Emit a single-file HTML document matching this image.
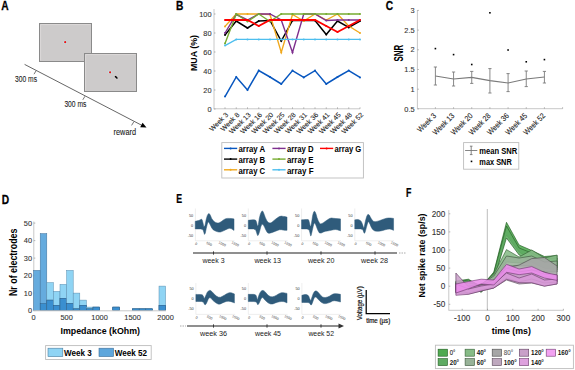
<!DOCTYPE html>
<html><head><meta charset="utf-8"><style>
html,body{margin:0;padding:0;background:#fff;width:575px;height:370px;overflow:hidden}
svg{display:block;font-family:"Liberation Sans", sans-serif}
</style></head><body>
<svg width="575" height="370" viewBox="0 0 575 370">
<rect width="575" height="370" fill="#fff"/>
<text transform="translate(1.3,10.0) scale(0.86,1)" font-size="11.9" font-weight="bold" fill="#000" stroke="#000" stroke-width="0.25">A</text>
<text transform="translate(176.0,9.6) scale(0.86,1)" font-size="11.9" font-weight="bold" fill="#000" stroke="#000" stroke-width="0.25">B</text>
<text transform="translate(385.8,9.6) scale(0.86,1)" font-size="11.9" font-weight="bold" fill="#000" stroke="#000" stroke-width="0.25">C</text>
<text transform="translate(1.7,203.7) scale(0.86,1)" font-size="11.9" font-weight="bold" fill="#000" stroke="#000" stroke-width="0.25">D</text>
<text transform="translate(176.2,202.6) scale(0.74,1)" font-size="11.9" font-weight="bold" fill="#000" stroke="#000" stroke-width="0.25">E</text>
<text transform="translate(405.9,197.0) scale(0.74,1)" font-size="11.9" font-weight="bold" fill="#000" stroke="#000" stroke-width="0.25">F</text>
<rect x="39.5" y="23.5" width="52" height="38" fill="#cdcbcb" stroke="#8a8a8a" stroke-width="1"/>
<path d="M40.6,60.5 V24.6 H90.5" stroke="#dedcdc" stroke-width="0.8" fill="none"/>
<rect x="84.5" y="53.5" width="52" height="38" fill="#cdcbcb" stroke="#8a8a8a" stroke-width="1"/>
<path d="M85.6,90.5 V54.6 H135.5" stroke="#dedcdc" stroke-width="0.8" fill="none"/>
<circle cx="65.2" cy="42.2" r="1.8" fill="#bfe6ee"/><circle cx="65.2" cy="42.2" r="1.1" fill="#f01010"/>
<circle cx="110.1" cy="72.3" r="1.8" fill="#bfe6ee"/><circle cx="110.1" cy="72.3" r="1.1" fill="#f01010"/>
<path d="M115.2,76.3 L117.4,78.5" stroke="#000" stroke-width="1.3"/><path d="M114.8,75.9 l1.8,0.2 l-1.6,1.6z" fill="#000"/>
<line x1="24.6" y1="64.4" x2="143.5" y2="126.2" stroke="#555" stroke-width="0.9"/>
<path d="M146.5,127.6 L140.2,127.2 L142.6,122.8 Z" fill="#000"/>
<line x1="36.2" y1="70.6" x2="34.0" y2="74.19999999999999" stroke="#555" stroke-width="0.8"/>
<line x1="85" y1="96.2" x2="82.8" y2="99.8" stroke="#555" stroke-width="0.8"/>
<line x1="133.8" y1="121.8" x2="131.60000000000002" y2="125.39999999999999" stroke="#555" stroke-width="0.8"/>
<text x="15" y="82" font-size="9.2" stroke="#222" stroke-width="0.1" text-anchor="start" fill="#222" textLength="22" lengthAdjust="spacingAndGlyphs">300 ms</text>
<text x="64.4" y="106.6" font-size="9.2" stroke="#222" stroke-width="0.1" text-anchor="start" fill="#222" textLength="22" lengthAdjust="spacingAndGlyphs">300 ms</text>
<text x="113.6" y="135" font-size="8.8" stroke="#222" stroke-width="0.1" text-anchor="start" fill="#222" textLength="22.4" lengthAdjust="spacingAndGlyphs">reward</text>
<line x1="214" y1="9" x2="214" y2="108.8" stroke="#c8c8c8" stroke-width="1"/>
<line x1="213.5" y1="108.8" x2="360" y2="108.8" stroke="#c8c8c8" stroke-width="1"/>
<line x1="214" y1="109.0" x2="215.5" y2="109.0" stroke="#888" stroke-width="0.6"/>
<text x="211.6" y="111.6" font-size="7.4" stroke="#333" stroke-width="0.1" text-anchor="end" fill="#333">0</text>
<line x1="214" y1="90.0" x2="215.5" y2="90.0" stroke="#888" stroke-width="0.6"/>
<text x="211.6" y="92.6" font-size="7.4" stroke="#333" stroke-width="0.1" text-anchor="end" fill="#333">20</text>
<line x1="214" y1="71.0" x2="215.5" y2="71.0" stroke="#888" stroke-width="0.6"/>
<text x="211.6" y="73.6" font-size="7.4" stroke="#333" stroke-width="0.1" text-anchor="end" fill="#333">40</text>
<line x1="214" y1="52.0" x2="215.5" y2="52.0" stroke="#888" stroke-width="0.6"/>
<text x="211.6" y="54.6" font-size="7.4" stroke="#333" stroke-width="0.1" text-anchor="end" fill="#333">60</text>
<line x1="214" y1="33.0" x2="215.5" y2="33.0" stroke="#888" stroke-width="0.6"/>
<text x="211.6" y="35.6" font-size="7.4" stroke="#333" stroke-width="0.1" text-anchor="end" fill="#333">80</text>
<line x1="214" y1="14.0" x2="215.5" y2="14.0" stroke="#888" stroke-width="0.6"/>
<text x="211.6" y="16.6" font-size="7.4" stroke="#333" stroke-width="0.1" text-anchor="end" fill="#333">100</text>
<line x1="225.0" y1="108.8" x2="225.0" y2="107.3" stroke="#888" stroke-width="0.6"/>
<line x1="236.25" y1="108.8" x2="236.25" y2="107.3" stroke="#888" stroke-width="0.6"/>
<line x1="247.5" y1="108.8" x2="247.5" y2="107.3" stroke="#888" stroke-width="0.6"/>
<line x1="258.75" y1="108.8" x2="258.75" y2="107.3" stroke="#888" stroke-width="0.6"/>
<line x1="270.0" y1="108.8" x2="270.0" y2="107.3" stroke="#888" stroke-width="0.6"/>
<line x1="281.25" y1="108.8" x2="281.25" y2="107.3" stroke="#888" stroke-width="0.6"/>
<line x1="292.5" y1="108.8" x2="292.5" y2="107.3" stroke="#888" stroke-width="0.6"/>
<line x1="303.75" y1="108.8" x2="303.75" y2="107.3" stroke="#888" stroke-width="0.6"/>
<line x1="315.0" y1="108.8" x2="315.0" y2="107.3" stroke="#888" stroke-width="0.6"/>
<line x1="326.25" y1="108.8" x2="326.25" y2="107.3" stroke="#888" stroke-width="0.6"/>
<line x1="337.5" y1="108.8" x2="337.5" y2="107.3" stroke="#888" stroke-width="0.6"/>
<line x1="348.75" y1="108.8" x2="348.75" y2="107.3" stroke="#888" stroke-width="0.6"/>
<line x1="360.0" y1="108.8" x2="360.0" y2="107.3" stroke="#888" stroke-width="0.6"/>
<text transform="translate(228.6,115.2) rotate(-45)" font-size="6.9" stroke="#222" stroke-width="0.1" text-anchor="end" fill="#222">Week 3</text>
<text transform="translate(239.85,115.2) rotate(-45)" font-size="6.9" stroke="#222" stroke-width="0.1" text-anchor="end" fill="#222">Week 8</text>
<text transform="translate(251.1,115.2) rotate(-45)" font-size="6.9" stroke="#222" stroke-width="0.1" text-anchor="end" fill="#222">Week 13</text>
<text transform="translate(262.35,115.2) rotate(-45)" font-size="6.9" stroke="#222" stroke-width="0.1" text-anchor="end" fill="#222">Week 16</text>
<text transform="translate(273.6,115.2) rotate(-45)" font-size="6.9" stroke="#222" stroke-width="0.1" text-anchor="end" fill="#222">Week 20</text>
<text transform="translate(284.85,115.2) rotate(-45)" font-size="6.9" stroke="#222" stroke-width="0.1" text-anchor="end" fill="#222">Week 25</text>
<text transform="translate(296.1,115.2) rotate(-45)" font-size="6.9" stroke="#222" stroke-width="0.1" text-anchor="end" fill="#222">Week 28</text>
<text transform="translate(307.35,115.2) rotate(-45)" font-size="6.9" stroke="#222" stroke-width="0.1" text-anchor="end" fill="#222">Week 31</text>
<text transform="translate(318.6,115.2) rotate(-45)" font-size="6.9" stroke="#222" stroke-width="0.1" text-anchor="end" fill="#222">Week 36</text>
<text transform="translate(329.85,115.2) rotate(-45)" font-size="6.9" stroke="#222" stroke-width="0.1" text-anchor="end" fill="#222">Week 41</text>
<text transform="translate(341.1,115.2) rotate(-45)" font-size="6.9" stroke="#222" stroke-width="0.1" text-anchor="end" fill="#222">Week 45</text>
<text transform="translate(352.35,115.2) rotate(-45)" font-size="6.9" stroke="#222" stroke-width="0.1" text-anchor="end" fill="#222">Week 48</text>
<text transform="translate(363.6,115.2) rotate(-45)" font-size="6.9" stroke="#222" stroke-width="0.1" text-anchor="end" fill="#222">Week 52</text>
<text transform="translate(197.3,53) rotate(-90)" font-size="9.6" font-weight="bold" text-anchor="middle" fill="#000" textLength="36" lengthAdjust="spacingAndGlyphs">MUA (%)</text>
<polyline points="225.00,96.60 236.25,77.00 247.50,90.00 258.75,70.60 270.00,77.00 281.25,84.00 292.50,70.60 303.75,77.40 315.00,70.60 326.25,84.00 337.50,77.00 348.75,70.60 360.00,77.40" fill="none" stroke="#0756bf" stroke-width="1.5" stroke-linejoin="miter"/>
<circle cx="225.0" cy="96.6" r="1" fill="#0756bf"/>
<circle cx="236.25" cy="77" r="1" fill="#0756bf"/>
<circle cx="247.5" cy="90" r="1" fill="#0756bf"/>
<circle cx="258.75" cy="70.6" r="1" fill="#0756bf"/>
<circle cx="270.0" cy="77" r="1" fill="#0756bf"/>
<circle cx="281.25" cy="84" r="1" fill="#0756bf"/>
<circle cx="292.5" cy="70.6" r="1" fill="#0756bf"/>
<circle cx="303.75" cy="77.4" r="1" fill="#0756bf"/>
<circle cx="315.0" cy="70.6" r="1" fill="#0756bf"/>
<circle cx="326.25" cy="84" r="1" fill="#0756bf"/>
<circle cx="337.5" cy="77" r="1" fill="#0756bf"/>
<circle cx="348.75" cy="70.6" r="1" fill="#0756bf"/>
<circle cx="360.0" cy="77.4" r="1" fill="#0756bf"/>
<polyline points="225.00,35.00 236.25,21.00 247.50,28.00 258.75,21.00 270.00,20.50 281.25,41.00 292.50,20.50 303.75,20.50 315.00,20.50 326.25,34.50 337.50,21.00 348.75,27.50 360.00,21.00" fill="none" stroke="#000000" stroke-width="1.5" stroke-linejoin="miter"/>
<circle cx="225.0" cy="35" r="1" fill="#000000"/>
<circle cx="236.25" cy="21" r="1" fill="#000000"/>
<circle cx="247.5" cy="28" r="1" fill="#000000"/>
<circle cx="258.75" cy="21" r="1" fill="#000000"/>
<circle cx="270.0" cy="20.5" r="1" fill="#000000"/>
<circle cx="281.25" cy="41" r="1" fill="#000000"/>
<circle cx="292.5" cy="20.5" r="1" fill="#000000"/>
<circle cx="303.75" cy="20.5" r="1" fill="#000000"/>
<circle cx="315.0" cy="20.5" r="1" fill="#000000"/>
<circle cx="326.25" cy="34.5" r="1" fill="#000000"/>
<circle cx="337.5" cy="21" r="1" fill="#000000"/>
<circle cx="348.75" cy="27.5" r="1" fill="#000000"/>
<circle cx="360.0" cy="21" r="1" fill="#000000"/>
<polyline points="225.00,26.40 236.25,14.00 247.50,14.00 258.75,14.00 270.00,14.50 281.25,52.40 292.50,14.50 303.75,21.00 315.00,14.00 326.25,20.00 337.50,14.00 348.75,26.00 360.00,33.00" fill="none" stroke="#f0a81c" stroke-width="1.4" stroke-linejoin="miter"/>
<circle cx="225.0" cy="26.4" r="1" fill="#f0a81c"/>
<circle cx="236.25" cy="14" r="1" fill="#f0a81c"/>
<circle cx="247.5" cy="14" r="1" fill="#f0a81c"/>
<circle cx="258.75" cy="14" r="1" fill="#f0a81c"/>
<circle cx="270.0" cy="14.5" r="1" fill="#f0a81c"/>
<circle cx="281.25" cy="52.4" r="1" fill="#f0a81c"/>
<circle cx="292.5" cy="14.5" r="1" fill="#f0a81c"/>
<circle cx="303.75" cy="21" r="1" fill="#f0a81c"/>
<circle cx="315.0" cy="14" r="1" fill="#f0a81c"/>
<circle cx="326.25" cy="20" r="1" fill="#f0a81c"/>
<circle cx="337.5" cy="14" r="1" fill="#f0a81c"/>
<circle cx="348.75" cy="26" r="1" fill="#f0a81c"/>
<circle cx="360.0" cy="33" r="1" fill="#f0a81c"/>
<polyline points="225.00,33.00 236.25,14.50 247.50,20.00 258.75,14.00 270.00,14.00 281.25,20.00 292.50,52.40 303.75,14.00 315.00,14.00 326.25,20.50 337.50,20.00 348.75,20.00 360.00,20.00" fill="none" stroke="#7e2f8e" stroke-width="1.4" stroke-linejoin="miter"/>
<circle cx="225.0" cy="33" r="1" fill="#7e2f8e"/>
<circle cx="236.25" cy="14.5" r="1" fill="#7e2f8e"/>
<circle cx="247.5" cy="20" r="1" fill="#7e2f8e"/>
<circle cx="258.75" cy="14" r="1" fill="#7e2f8e"/>
<circle cx="270.0" cy="14" r="1" fill="#7e2f8e"/>
<circle cx="281.25" cy="20" r="1" fill="#7e2f8e"/>
<circle cx="292.5" cy="52.4" r="1" fill="#7e2f8e"/>
<circle cx="303.75" cy="14" r="1" fill="#7e2f8e"/>
<circle cx="315.0" cy="14" r="1" fill="#7e2f8e"/>
<circle cx="326.25" cy="20.5" r="1" fill="#7e2f8e"/>
<circle cx="337.5" cy="20" r="1" fill="#7e2f8e"/>
<circle cx="348.75" cy="20" r="1" fill="#7e2f8e"/>
<circle cx="360.0" cy="20" r="1" fill="#7e2f8e"/>
<polyline points="225.00,43.60 236.25,14.00 247.50,21.50 258.75,14.00 270.00,21.50 281.25,14.00 292.50,14.00 303.75,14.00 315.00,14.00 326.25,14.00 337.50,14.00 348.75,14.00 360.00,14.00" fill="none" stroke="#77ac30" stroke-width="1.4" stroke-linejoin="miter"/>
<circle cx="225.0" cy="43.6" r="1" fill="#77ac30"/>
<circle cx="236.25" cy="14" r="1" fill="#77ac30"/>
<circle cx="247.5" cy="21.5" r="1" fill="#77ac30"/>
<circle cx="258.75" cy="14" r="1" fill="#77ac30"/>
<circle cx="270.0" cy="21.5" r="1" fill="#77ac30"/>
<circle cx="281.25" cy="14" r="1" fill="#77ac30"/>
<circle cx="292.5" cy="14" r="1" fill="#77ac30"/>
<circle cx="303.75" cy="14" r="1" fill="#77ac30"/>
<circle cx="315.0" cy="14" r="1" fill="#77ac30"/>
<circle cx="326.25" cy="14" r="1" fill="#77ac30"/>
<circle cx="337.5" cy="14" r="1" fill="#77ac30"/>
<circle cx="348.75" cy="14" r="1" fill="#77ac30"/>
<circle cx="360.0" cy="14" r="1" fill="#77ac30"/>
<polyline points="225.00,45.60 236.25,39.40 247.50,39.40 258.75,39.40 270.00,39.40 281.25,39.40 292.50,39.40 303.75,39.40 315.00,39.40 326.25,39.40 337.50,39.40 348.75,39.40 360.00,39.40" fill="none" stroke="#4dbeee" stroke-width="1.4" stroke-linejoin="miter"/>
<circle cx="225.0" cy="45.6" r="1" fill="#4dbeee"/>
<circle cx="236.25" cy="39.4" r="1" fill="#4dbeee"/>
<circle cx="247.5" cy="39.4" r="1" fill="#4dbeee"/>
<circle cx="258.75" cy="39.4" r="1" fill="#4dbeee"/>
<circle cx="270.0" cy="39.4" r="1" fill="#4dbeee"/>
<circle cx="281.25" cy="39.4" r="1" fill="#4dbeee"/>
<circle cx="292.5" cy="39.4" r="1" fill="#4dbeee"/>
<circle cx="303.75" cy="39.4" r="1" fill="#4dbeee"/>
<circle cx="315.0" cy="39.4" r="1" fill="#4dbeee"/>
<circle cx="326.25" cy="39.4" r="1" fill="#4dbeee"/>
<circle cx="337.5" cy="39.4" r="1" fill="#4dbeee"/>
<circle cx="348.75" cy="39.4" r="1" fill="#4dbeee"/>
<circle cx="360.0" cy="39.4" r="1" fill="#4dbeee"/>
<polyline points="225.00,20.00 236.25,20.00 247.50,20.00 258.75,26.00 270.00,20.00 281.25,20.00 292.50,20.00 303.75,20.00 315.00,20.00 326.25,26.00 337.50,32.00 348.75,26.00 360.00,20.00" fill="none" stroke="#ff0000" stroke-width="1.8" stroke-linejoin="miter"/>
<circle cx="225.0" cy="20" r="1" fill="#ff0000"/>
<circle cx="236.25" cy="20" r="1" fill="#ff0000"/>
<circle cx="247.5" cy="20" r="1" fill="#ff0000"/>
<circle cx="258.75" cy="26" r="1" fill="#ff0000"/>
<circle cx="270.0" cy="20" r="1" fill="#ff0000"/>
<circle cx="281.25" cy="20" r="1" fill="#ff0000"/>
<circle cx="292.5" cy="20" r="1" fill="#ff0000"/>
<circle cx="303.75" cy="20" r="1" fill="#ff0000"/>
<circle cx="315.0" cy="20" r="1" fill="#ff0000"/>
<circle cx="326.25" cy="26" r="1" fill="#ff0000"/>
<circle cx="337.5" cy="32" r="1" fill="#ff0000"/>
<circle cx="348.75" cy="26" r="1" fill="#ff0000"/>
<circle cx="360.0" cy="20" r="1" fill="#ff0000"/>
<rect x="221.8" y="142.6" width="141.6" height="35.4" fill="#fff" stroke="#bdbdbd" stroke-width="0.9"/>
<line x1="224" y1="148.4" x2="237.2" y2="148.4" stroke="#0756bf" stroke-width="1.4"/>
<circle cx="230.6" cy="148.4" r="1" fill="#0756bf"/>
<text x="238.5" y="152.20000000000002" font-size="8.2" font-weight="bold" text-anchor="start" fill="#000" textLength="26.7" lengthAdjust="spacingAndGlyphs">array A</text>
<line x1="224" y1="159.1" x2="237.2" y2="159.1" stroke="#000" stroke-width="1.4"/>
<circle cx="230.6" cy="159.1" r="1" fill="#000"/>
<text x="238.5" y="162.9" font-size="8.2" font-weight="bold" text-anchor="start" fill="#000" textLength="26.7" lengthAdjust="spacingAndGlyphs">array B</text>
<line x1="224" y1="169.8" x2="237.2" y2="169.8" stroke="#f0a81c" stroke-width="1.4"/>
<circle cx="230.6" cy="169.8" r="1" fill="#f0a81c"/>
<text x="238.5" y="173.60000000000002" font-size="8.2" font-weight="bold" text-anchor="start" fill="#000" textLength="26.7" lengthAdjust="spacingAndGlyphs">array C</text>
<line x1="272.4" y1="148.4" x2="285.59999999999997" y2="148.4" stroke="#7e2f8e" stroke-width="1.4"/>
<circle cx="279.0" cy="148.4" r="1" fill="#7e2f8e"/>
<text x="286.9" y="152.20000000000002" font-size="8.2" font-weight="bold" text-anchor="start" fill="#000" textLength="26.7" lengthAdjust="spacingAndGlyphs">array D</text>
<line x1="272.4" y1="159.1" x2="285.59999999999997" y2="159.1" stroke="#77ac30" stroke-width="1.4"/>
<circle cx="279.0" cy="159.1" r="1" fill="#77ac30"/>
<text x="286.9" y="162.9" font-size="8.2" font-weight="bold" text-anchor="start" fill="#000" textLength="26.7" lengthAdjust="spacingAndGlyphs">array E</text>
<line x1="272.4" y1="169.8" x2="285.59999999999997" y2="169.8" stroke="#4dbeee" stroke-width="1.4"/>
<circle cx="279.0" cy="169.8" r="1" fill="#4dbeee"/>
<text x="286.9" y="173.60000000000002" font-size="8.2" font-weight="bold" text-anchor="start" fill="#000" textLength="26.7" lengthAdjust="spacingAndGlyphs">array F</text>
<line x1="320" y1="148.4" x2="333.2" y2="148.4" stroke="#ff0000" stroke-width="1.4"/>
<circle cx="326.6" cy="148.4" r="1" fill="#ff0000"/>
<text x="334.5" y="152.20000000000002" font-size="8.2" font-weight="bold" text-anchor="start" fill="#000" textLength="26.7" lengthAdjust="spacingAndGlyphs">array G</text>
<line x1="417.4" y1="10" x2="417.4" y2="108.7" stroke="#c8c8c8" stroke-width="1"/>
<line x1="417" y1="108.7" x2="562.6" y2="108.7" stroke="#c8c8c8" stroke-width="1"/>
<line x1="417.4" y1="108.9" x2="418.9" y2="108.9" stroke="#888" stroke-width="0.6"/>
<text x="414.6" y="111.5" font-size="7.4" stroke="#333" stroke-width="0.1" text-anchor="end" fill="#333">0.5</text>
<line x1="417.4" y1="89.2" x2="418.9" y2="89.2" stroke="#888" stroke-width="0.6"/>
<text x="414.6" y="91.8" font-size="7.4" stroke="#333" stroke-width="0.1" text-anchor="end" fill="#333">1</text>
<line x1="417.4" y1="69.5" x2="418.9" y2="69.5" stroke="#888" stroke-width="0.6"/>
<text x="414.6" y="72.1" font-size="7.4" stroke="#333" stroke-width="0.1" text-anchor="end" fill="#333">1.5</text>
<line x1="417.4" y1="49.800000000000004" x2="418.9" y2="49.800000000000004" stroke="#888" stroke-width="0.6"/>
<text x="414.6" y="52.400000000000006" font-size="7.4" stroke="#333" stroke-width="0.1" text-anchor="end" fill="#333">2</text>
<line x1="417.4" y1="30.10000000000001" x2="418.9" y2="30.10000000000001" stroke="#888" stroke-width="0.6"/>
<text x="414.6" y="32.70000000000001" font-size="7.4" stroke="#333" stroke-width="0.1" text-anchor="end" fill="#333">2.5</text>
<line x1="417.4" y1="10.400000000000006" x2="418.9" y2="10.400000000000006" stroke="#888" stroke-width="0.6"/>
<text x="414.6" y="13.000000000000005" font-size="7.4" stroke="#333" stroke-width="0.1" text-anchor="end" fill="#333">3</text>
<line x1="435.4" y1="108.7" x2="435.4" y2="107.2" stroke="#888" stroke-width="0.6"/>
<line x1="453.57" y1="108.7" x2="453.57" y2="107.2" stroke="#888" stroke-width="0.6"/>
<line x1="471.74" y1="108.7" x2="471.74" y2="107.2" stroke="#888" stroke-width="0.6"/>
<line x1="489.90999999999997" y1="108.7" x2="489.90999999999997" y2="107.2" stroke="#888" stroke-width="0.6"/>
<line x1="508.08" y1="108.7" x2="508.08" y2="107.2" stroke="#888" stroke-width="0.6"/>
<line x1="526.25" y1="108.7" x2="526.25" y2="107.2" stroke="#888" stroke-width="0.6"/>
<line x1="544.42" y1="108.7" x2="544.42" y2="107.2" stroke="#888" stroke-width="0.6"/>
<line x1="562.6" y1="108.7" x2="562.6" y2="107.2" stroke="#888" stroke-width="0.6"/>
<text transform="translate(436.79999999999995,116.2) rotate(-45)" font-size="7.8" stroke="#222" stroke-width="0.1" text-anchor="end" fill="#222" textLength="23.39" lengthAdjust="spacingAndGlyphs">Week 3</text>
<text transform="translate(454.96999999999997,116.2) rotate(-45)" font-size="7.8" stroke="#222" stroke-width="0.1" text-anchor="end" fill="#222" textLength="27.23" lengthAdjust="spacingAndGlyphs">Week 13</text>
<text transform="translate(473.14,116.2) rotate(-45)" font-size="7.8" stroke="#222" stroke-width="0.1" text-anchor="end" fill="#222" textLength="27.23" lengthAdjust="spacingAndGlyphs">Week 20</text>
<text transform="translate(491.30999999999995,116.2) rotate(-45)" font-size="7.8" stroke="#222" stroke-width="0.1" text-anchor="end" fill="#222" textLength="27.23" lengthAdjust="spacingAndGlyphs">Week 28</text>
<text transform="translate(509.47999999999996,116.2) rotate(-45)" font-size="7.8" stroke="#222" stroke-width="0.1" text-anchor="end" fill="#222" textLength="27.23" lengthAdjust="spacingAndGlyphs">Week 36</text>
<text transform="translate(527.65,116.2) rotate(-45)" font-size="7.8" stroke="#222" stroke-width="0.1" text-anchor="end" fill="#222" textLength="27.23" lengthAdjust="spacingAndGlyphs">Week 45</text>
<text transform="translate(545.8199999999999,116.2) rotate(-45)" font-size="7.8" stroke="#222" stroke-width="0.1" text-anchor="end" fill="#222" textLength="27.23" lengthAdjust="spacingAndGlyphs">Week 52</text>
<text transform="translate(402.6,53.1) rotate(-90)" font-size="12" font-weight="bold" text-anchor="middle" fill="#000" textLength="16.6" lengthAdjust="spacingAndGlyphs">SNR</text>
<polyline points="435.40,76.00 453.57,79.00 471.74,77.40 489.91,80.60 508.08,83.00 526.25,79.00 544.42,77.00" fill="none" stroke="#7a7a7a" stroke-width="1.2"/>
<path d="M435.4,67 V85 M433.79999999999995,67 H437.0 M433.79999999999995,85 H437.0" stroke="#7a7a7a" stroke-width="0.9" fill="none"/>
<path d="M453.57,72 V86 M451.96999999999997,72 H455.17 M451.96999999999997,86 H455.17" stroke="#7a7a7a" stroke-width="0.9" fill="none"/>
<path d="M471.74,71.4 V83.4 M470.14,71.4 H473.34000000000003 M470.14,83.4 H473.34000000000003" stroke="#7a7a7a" stroke-width="0.9" fill="none"/>
<path d="M489.90999999999997,68.6 V93 M488.30999999999995,68.6 H491.51 M488.30999999999995,93 H491.51" stroke="#7a7a7a" stroke-width="0.9" fill="none"/>
<path d="M508.08,73.6 V91.6 M506.47999999999996,73.6 H509.68 M506.47999999999996,91.6 H509.68" stroke="#7a7a7a" stroke-width="0.9" fill="none"/>
<path d="M526.25,71 V86.6 M524.65,71 H527.85 M524.65,86.6 H527.85" stroke="#7a7a7a" stroke-width="0.9" fill="none"/>
<path d="M544.42,71.4 V83 M542.8199999999999,71.4 H546.02 M542.8199999999999,83 H546.02" stroke="#7a7a7a" stroke-width="0.9" fill="none"/>
<rect x="434.59999999999997" y="47.800000000000004" width="1.6" height="1.6" fill="#000"/>
<rect x="452.77" y="53.800000000000004" width="1.6" height="1.6" fill="#000"/>
<rect x="470.94" y="63.7" width="1.6" height="1.6" fill="#000"/>
<rect x="489.10999999999996" y="12.0" width="1.6" height="1.6" fill="#000"/>
<rect x="507.28" y="49.2" width="1.6" height="1.6" fill="#000"/>
<rect x="525.45" y="61.0" width="1.6" height="1.6" fill="#000"/>
<rect x="543.62" y="58.800000000000004" width="1.6" height="1.6" fill="#000"/>
<rect x="463.6" y="142.6" width="55.2" height="26.6" fill="#fff" stroke="#bdbdbd" stroke-width="0.9"/>
<path d="M465.1,150.5 H477.3 M471.2,146.2 V154.6 M469.9,146.2 H472.5 M469.9,154.6 H472.5" stroke="#777" stroke-width="0.9" fill="none"/>
<rect x="470.7" y="160.6" width="1.6" height="1.6" fill="#000"/>
<text x="479.3" y="154.4" font-size="8.8" font-weight="bold" text-anchor="start" fill="#000" textLength="37.9" lengthAdjust="spacingAndGlyphs">mean SNR</text>
<text x="479.3" y="165" font-size="8.8" font-weight="bold" text-anchor="start" fill="#000" textLength="32.5" lengthAdjust="spacingAndGlyphs">max SNR</text>
<line x1="33.8" y1="221.5" x2="33.8" y2="310.6" stroke="#c8c8c8" stroke-width="1"/>
<line x1="33.8" y1="310.6" x2="35.3" y2="310.6" stroke="#888" stroke-width="0.6"/>
<text x="32" y="313.20000000000005" font-size="7.4" stroke="#333" stroke-width="0.1" text-anchor="end" fill="#333">0</text>
<line x1="33.8" y1="293.1" x2="35.3" y2="293.1" stroke="#888" stroke-width="0.6"/>
<text x="32" y="295.70000000000005" font-size="7.4" stroke="#333" stroke-width="0.1" text-anchor="end" fill="#333">10</text>
<line x1="33.8" y1="275.6" x2="35.3" y2="275.6" stroke="#888" stroke-width="0.6"/>
<text x="32" y="278.20000000000005" font-size="7.4" stroke="#333" stroke-width="0.1" text-anchor="end" fill="#333">20</text>
<line x1="33.8" y1="258.1" x2="35.3" y2="258.1" stroke="#888" stroke-width="0.6"/>
<text x="32" y="260.70000000000005" font-size="7.4" stroke="#333" stroke-width="0.1" text-anchor="end" fill="#333">30</text>
<line x1="33.8" y1="240.60000000000002" x2="35.3" y2="240.60000000000002" stroke="#888" stroke-width="0.6"/>
<text x="32" y="243.20000000000002" font-size="7.4" stroke="#333" stroke-width="0.1" text-anchor="end" fill="#333">40</text>
<line x1="33.8" y1="223.10000000000002" x2="35.3" y2="223.10000000000002" stroke="#888" stroke-width="0.6"/>
<text x="32" y="225.70000000000002" font-size="7.4" stroke="#333" stroke-width="0.1" text-anchor="end" fill="#333">50</text>
<text x="33.6" y="320.2" font-size="7.4" stroke="#333" stroke-width="0.1" text-anchor="middle" fill="#333">0</text>
<text x="66.6" y="320.2" font-size="7.4" stroke="#333" stroke-width="0.1" text-anchor="middle" fill="#333">500</text>
<text x="99.6" y="320.2" font-size="7.4" stroke="#333" stroke-width="0.1" text-anchor="middle" fill="#333">1000</text>
<text x="132.6" y="320.2" font-size="7.4" stroke="#333" stroke-width="0.1" text-anchor="middle" fill="#333">1500</text>
<text x="165.6" y="320.2" font-size="7.4" stroke="#333" stroke-width="0.1" text-anchor="middle" fill="#333">2000</text>
<rect x="33.60" y="270.35" width="6.60" height="40.25" fill="#5da6dc" fill-opacity="0.95" stroke="#3f6f98" stroke-width="0.5"/>
<rect x="40.20" y="303.60" width="6.60" height="7.00" fill="#8fd4f4" stroke="#5a8db0" stroke-width="0.5"/>
<rect x="40.20" y="233.60" width="6.60" height="77.00" fill="#5da6dc" fill-opacity="0.95" stroke="#3f6f98" stroke-width="0.5"/>
<rect x="40.20" y="303.60" width="6.60" height="7.00" fill="#3a8fd0" stroke="#2f5f88" stroke-width="0.5"/>
<rect x="46.80" y="282.60" width="6.60" height="28.00" fill="#8fd4f4" stroke="#5a8db0" stroke-width="0.5"/>
<rect x="46.80" y="300.10" width="6.60" height="10.50" fill="#5da6dc" fill-opacity="0.95" stroke="#3f6f98" stroke-width="0.5"/>
<rect x="46.80" y="300.10" width="6.60" height="10.50" fill="#3a8fd0" stroke="#2f5f88" stroke-width="0.5"/>
<rect x="53.40" y="291.35" width="6.60" height="19.25" fill="#8fd4f4" stroke="#5a8db0" stroke-width="0.5"/>
<rect x="53.40" y="305.35" width="6.60" height="5.25" fill="#5da6dc" fill-opacity="0.95" stroke="#3f6f98" stroke-width="0.5"/>
<rect x="53.40" y="305.35" width="6.60" height="5.25" fill="#3a8fd0" stroke="#2f5f88" stroke-width="0.5"/>
<rect x="60.00" y="284.35" width="6.60" height="26.25" fill="#8fd4f4" stroke="#5a8db0" stroke-width="0.5"/>
<rect x="60.00" y="298.35" width="6.60" height="12.25" fill="#5da6dc" fill-opacity="0.95" stroke="#3f6f98" stroke-width="0.5"/>
<rect x="60.00" y="298.35" width="6.60" height="12.25" fill="#3a8fd0" stroke="#2f5f88" stroke-width="0.5"/>
<rect x="66.60" y="270.35" width="6.60" height="40.25" fill="#8fd4f4" stroke="#5a8db0" stroke-width="0.5"/>
<rect x="66.60" y="303.60" width="6.60" height="7.00" fill="#5da6dc" fill-opacity="0.95" stroke="#3f6f98" stroke-width="0.5"/>
<rect x="66.60" y="303.60" width="6.60" height="7.00" fill="#3a8fd0" stroke="#2f5f88" stroke-width="0.5"/>
<rect x="73.20" y="293.10" width="6.60" height="17.50" fill="#8fd4f4" stroke="#5a8db0" stroke-width="0.5"/>
<rect x="73.20" y="308.85" width="6.60" height="1.75" fill="#5da6dc" fill-opacity="0.95" stroke="#3f6f98" stroke-width="0.5"/>
<rect x="73.20" y="308.85" width="6.60" height="1.75" fill="#3a8fd0" stroke="#2f5f88" stroke-width="0.5"/>
<rect x="79.80" y="300.10" width="6.60" height="10.50" fill="#8fd4f4" stroke="#5a8db0" stroke-width="0.5"/>
<rect x="79.80" y="305.35" width="6.60" height="5.25" fill="#5da6dc" fill-opacity="0.95" stroke="#3f6f98" stroke-width="0.5"/>
<rect x="79.80" y="305.35" width="6.60" height="5.25" fill="#3a8fd0" stroke="#2f5f88" stroke-width="0.5"/>
<rect x="86.40" y="307.10" width="6.60" height="3.50" fill="#8fd4f4" stroke="#5a8db0" stroke-width="0.5"/>
<rect x="86.40" y="308.85" width="6.60" height="1.75" fill="#5da6dc" fill-opacity="0.95" stroke="#3f6f98" stroke-width="0.5"/>
<rect x="86.40" y="308.85" width="6.60" height="1.75" fill="#3a8fd0" stroke="#2f5f88" stroke-width="0.5"/>
<rect x="93.00" y="307.10" width="6.60" height="3.50" fill="#8fd4f4" stroke="#5a8db0" stroke-width="0.5"/>
<rect x="93.00" y="307.10" width="6.60" height="3.50" fill="#5da6dc" fill-opacity="0.95" stroke="#3f6f98" stroke-width="0.5"/>
<rect x="93.00" y="307.10" width="6.60" height="3.50" fill="#3a8fd0" stroke="#2f5f88" stroke-width="0.5"/>
<rect x="112.80" y="307.10" width="6.60" height="3.50" fill="#8fd4f4" stroke="#5a8db0" stroke-width="0.5"/>
<rect x="112.80" y="307.10" width="6.60" height="3.50" fill="#5da6dc" fill-opacity="0.95" stroke="#3f6f98" stroke-width="0.5"/>
<rect x="112.80" y="307.10" width="6.60" height="3.50" fill="#3a8fd0" stroke="#2f5f88" stroke-width="0.5"/>
<rect x="132.60" y="308.85" width="6.60" height="1.75" fill="#8fd4f4" stroke="#5a8db0" stroke-width="0.5"/>
<rect x="132.60" y="308.85" width="6.60" height="1.75" fill="#5da6dc" fill-opacity="0.95" stroke="#3f6f98" stroke-width="0.5"/>
<rect x="132.60" y="308.85" width="6.60" height="1.75" fill="#3a8fd0" stroke="#2f5f88" stroke-width="0.5"/>
<rect x="139.20" y="308.85" width="6.60" height="1.75" fill="#8fd4f4" stroke="#5a8db0" stroke-width="0.5"/>
<rect x="139.20" y="308.85" width="6.60" height="1.75" fill="#5da6dc" fill-opacity="0.95" stroke="#3f6f98" stroke-width="0.5"/>
<rect x="139.20" y="308.85" width="6.60" height="1.75" fill="#3a8fd0" stroke="#2f5f88" stroke-width="0.5"/>
<rect x="145.80" y="308.85" width="6.60" height="1.75" fill="#8fd4f4" stroke="#5a8db0" stroke-width="0.5"/>
<rect x="145.80" y="308.85" width="6.60" height="1.75" fill="#5da6dc" fill-opacity="0.95" stroke="#3f6f98" stroke-width="0.5"/>
<rect x="145.80" y="308.85" width="6.60" height="1.75" fill="#3a8fd0" stroke="#2f5f88" stroke-width="0.5"/>
<rect x="159.00" y="286.10" width="6.60" height="24.50" fill="#8fd4f4" stroke="#5a8db0" stroke-width="0.5"/>
<rect x="159.00" y="305.35" width="6.60" height="5.25" fill="#5da6dc" fill-opacity="0.95" stroke="#3f6f98" stroke-width="0.5"/>
<rect x="159.00" y="305.35" width="6.60" height="5.25" fill="#3a8fd0" stroke="#2f5f88" stroke-width="0.5"/>
<line x1="33.3" y1="310.8" x2="166" y2="310.8" stroke="#c8c8c8" stroke-width="1"/>
<text transform="translate(17.0,262.3) rotate(-90)" font-size="10.4" font-weight="bold" text-anchor="middle" fill="#000" textLength="67.5" lengthAdjust="spacingAndGlyphs">Nr of electrodes</text>
<text x="60.5" y="334.4" font-size="9.6" font-weight="bold" text-anchor="start" fill="#000" textLength="79.5" lengthAdjust="spacingAndGlyphs">Impedance (kOhm)</text>
<rect x="45.6" y="345.6" width="105.6" height="13.9" fill="#fff" stroke="#bdbdbd" stroke-width="0.9"/>
<rect x="48" y="348.2" width="14.8" height="8.4" fill="#8fd4f4" stroke="#4a7da0" stroke-width="0.6"/>
<rect x="99" y="348.2" width="14.6" height="8.4" fill="#5da6dc" stroke="#3f6f98" stroke-width="0.6"/>
<text x="64" y="355.7" font-size="8.8" font-weight="bold" text-anchor="start" fill="#000" textLength="27.7" lengthAdjust="spacingAndGlyphs">Week 3</text>
<text x="114.8" y="355.7" font-size="8.8" font-weight="bold" text-anchor="start" fill="#000" textLength="32.3" lengthAdjust="spacingAndGlyphs">Week 52</text>
<path d="M195.4,208.5 V240.8 H234.60000000000002" stroke="#e2e2e2" stroke-width="0.6" fill="none"/><text x="193.20000000000002" y="216.6" font-size="3.8" text-anchor="end" fill="#333">50</text><text x="193.20000000000002" y="226.6" font-size="3.8" text-anchor="end" fill="#333">0</text><text x="193.20000000000002" y="236.6" font-size="3.8" text-anchor="end" fill="#333">-50</text><text transform="translate(195.70000000000002,245.0) rotate(25)" font-size="3.5" text-anchor="middle" fill="#444">0</text><text transform="translate(208.70000000000002,245.0) rotate(25)" font-size="3.5" text-anchor="middle" fill="#444">500</text><text transform="translate(221.70000000000002,245.0) rotate(25)" font-size="3.5" text-anchor="middle" fill="#444">1000</text><text transform="translate(234.70000000000002,245.0) rotate(25)" font-size="3.5" text-anchor="middle" fill="#444">1500</text>
<polygon points="195.26,221.30 196.34,221.05 198.52,220.55 200.08,219.95 201.03,219.25 201.72,219.25 202.18,219.95 202.89,222.45 203.86,226.75 204.95,225.80 206.15,219.60 207.24,215.65 208.21,213.95 209.05,213.47 209.75,214.22 210.58,215.80 211.53,218.20 212.73,220.10 214.18,221.50 215.61,222.45 217.04,222.95 218.46,222.95 219.89,222.45 221.32,221.60 222.78,220.40 224.22,219.45 225.65,218.75 227.32,218.40 229.24,218.40 231.15,218.53 233.05,218.78 234.00,218.90 234.00,230.40 233.05,229.80 231.15,228.60 229.24,228.35 227.32,229.05 225.40,229.88 223.47,230.83 221.80,231.55 220.40,232.05 218.73,232.05 216.78,231.55 214.97,230.83 213.33,229.88 211.78,227.97 210.33,225.12 209.25,223.10 208.55,221.90 207.84,222.49 207.11,224.86 206.26,228.44 205.29,233.21 204.45,234.40 203.75,232.00 203.15,230.33 202.65,229.38 200.62,228.90 197.05,228.90 195.26,228.90" fill="#2f5b7b" stroke="#2f5b7b" stroke-width="0.5" stroke-linejoin="round"/>
<path d="M248.3,208.5 V240.8 H287.5" stroke="#e2e2e2" stroke-width="0.6" fill="none"/><text x="246.10000000000002" y="216.6" font-size="3.8" text-anchor="end" fill="#333">50</text><text x="246.10000000000002" y="226.6" font-size="3.8" text-anchor="end" fill="#333">0</text><text x="246.10000000000002" y="236.6" font-size="3.8" text-anchor="end" fill="#333">-50</text><text transform="translate(248.60000000000002,245.0) rotate(25)" font-size="3.5" text-anchor="middle" fill="#444">0</text><text transform="translate(261.6,245.0) rotate(25)" font-size="3.5" text-anchor="middle" fill="#444">500</text><text transform="translate(274.6,245.0) rotate(25)" font-size="3.5" text-anchor="middle" fill="#444">1000</text><text transform="translate(287.6,245.0) rotate(25)" font-size="3.5" text-anchor="middle" fill="#444">1500</text>
<polygon points="248.30,220.30 249.98,220.11 253.33,219.74 255.35,219.99 256.05,220.86 256.75,222.97 257.45,226.33 258.29,224.88 259.26,218.62 260.35,214.20 261.55,211.60 262.51,210.90 263.24,212.10 264.20,214.38 265.40,217.72 266.59,220.22 267.76,221.88 268.95,222.83 270.15,223.08 271.46,222.60 272.89,221.40 274.32,220.20 275.78,219.00 277.45,217.80 279.35,216.60 281.26,216.12 283.19,216.38 284.86,216.62 286.29,216.88 287.00,217.00 287.00,230.35 286.29,230.35 284.86,230.35 283.19,230.11 281.26,229.64 279.35,229.75 277.45,230.45 275.55,231.18 273.65,231.93 271.61,232.65 269.44,233.35 267.88,233.10 266.93,231.90 265.85,229.99 264.65,227.36 263.69,225.56 262.96,224.59 262.25,224.35 261.55,224.85 260.73,227.01 259.78,230.84 258.93,233.59 258.18,235.26 257.57,235.50 257.12,234.30 256.54,232.50 255.81,230.10 253.66,228.90 250.09,228.90 248.30,228.90" fill="#2f5b7b" stroke="#2f5b7b" stroke-width="0.5" stroke-linejoin="round"/>
<path d="M301.55,208.5 V240.8 H340.75" stroke="#e2e2e2" stroke-width="0.6" fill="none"/><text x="299.35" y="216.6" font-size="3.8" text-anchor="end" fill="#333">50</text><text x="299.35" y="226.6" font-size="3.8" text-anchor="end" fill="#333">0</text><text x="299.35" y="236.6" font-size="3.8" text-anchor="end" fill="#333">-50</text><text transform="translate(301.85,245.0) rotate(25)" font-size="3.5" text-anchor="middle" fill="#444">0</text><text transform="translate(314.85,245.0) rotate(25)" font-size="3.5" text-anchor="middle" fill="#444">500</text><text transform="translate(327.85,245.0) rotate(25)" font-size="3.5" text-anchor="middle" fill="#444">1000</text><text transform="translate(340.85,245.0) rotate(25)" font-size="3.5" text-anchor="middle" fill="#444">1500</text>
<polygon points="301.55,219.85 303.15,219.72 306.35,219.47 308.20,219.59 308.70,220.06 309.35,222.22 310.15,226.08 310.86,226.33 311.49,222.97 312.04,219.62 312.51,216.28 313.11,213.64 313.84,211.71 314.56,211.22 315.29,212.18 316.12,214.33 317.07,217.68 318.15,220.55 319.35,222.95 320.66,223.91 322.09,223.44 323.76,222.47 325.69,221.03 327.60,219.70 329.50,218.50 331.40,218.03 333.30,218.28 335.81,218.53 338.94,218.78 340.50,218.90 340.50,230.85 339.43,230.49 337.27,229.76 335.24,229.53 333.31,229.78 331.40,230.14 329.50,230.61 327.59,230.96 325.66,231.19 323.51,231.90 321.14,233.10 319.46,232.99 318.49,231.56 317.53,229.53 316.57,226.88 315.74,224.84 315.01,223.41 314.41,223.06 313.94,223.79 313.23,226.30 312.28,230.60 311.56,233.71 311.09,235.64 310.68,235.88 310.32,234.43 309.85,232.50 309.25,230.10 307.10,228.90 303.40,228.90 301.55,228.90" fill="#2f5b7b" stroke="#2f5b7b" stroke-width="0.5" stroke-linejoin="round"/>
<path d="M354.8,208.5 V240.8 H394.0" stroke="#e2e2e2" stroke-width="0.6" fill="none"/><text x="352.6" y="216.6" font-size="3.8" text-anchor="end" fill="#333">50</text><text x="352.6" y="226.6" font-size="3.8" text-anchor="end" fill="#333">0</text><text x="352.6" y="236.6" font-size="3.8" text-anchor="end" fill="#333">-50</text><text transform="translate(355.1,245.0) rotate(25)" font-size="3.5" text-anchor="middle" fill="#444">0</text><text transform="translate(368.1,245.0) rotate(25)" font-size="3.5" text-anchor="middle" fill="#444">500</text><text transform="translate(381.1,245.0) rotate(25)" font-size="3.5" text-anchor="middle" fill="#444">1000</text><text transform="translate(394.1,245.0) rotate(25)" font-size="3.5" text-anchor="middle" fill="#444">1500</text>
<polygon points="354.80,219.85 355.64,219.72 357.31,219.47 358.86,219.71 360.29,220.44 361.36,221.64 362.09,223.31 362.81,225.34 363.54,227.71 364.25,227.00 364.95,223.20 365.79,219.62 366.76,216.28 367.73,214.60 368.68,214.60 369.50,215.31 370.20,216.74 371.16,218.41 372.39,220.34 373.70,221.41 375.10,221.64 377.00,221.39 379.40,220.66 381.80,219.83 384.20,218.88 386.36,218.28 388.29,218.03 390.33,218.03 392.48,218.28 393.55,218.40 393.55,230.35 392.71,229.99 391.04,229.26 389.24,229.03 387.31,229.28 385.16,229.76 382.79,230.49 380.65,230.96 378.75,231.19 376.82,231.19 374.88,230.96 373.30,230.12 372.10,228.68 371.03,226.76 370.07,224.39 369.25,222.72 368.55,221.78 367.84,222.49 367.11,224.86 366.39,227.49 365.66,230.36 365.06,232.28 364.59,233.22 364.11,233.10 363.64,231.90 363.16,230.70 362.69,229.50 360.54,228.90 356.71,228.90 354.80,228.90" fill="#2f5b7b" stroke="#2f5b7b" stroke-width="0.5" stroke-linejoin="round"/>
<path d="M195.9,283 V314.4 H235.10000000000002" stroke="#e2e2e2" stroke-width="0.6" fill="none"/><text x="193.70000000000002" y="289.59999999999997" font-size="3.8" text-anchor="end" fill="#333">50</text><text x="193.70000000000002" y="299.59999999999997" font-size="3.8" text-anchor="end" fill="#333">0</text><text x="193.70000000000002" y="309.59999999999997" font-size="3.8" text-anchor="end" fill="#333">-50</text><text transform="translate(196.20000000000002,318.59999999999997) rotate(25)" font-size="3.5" text-anchor="middle" fill="#444">0</text><text transform="translate(209.20000000000002,318.59999999999997) rotate(25)" font-size="3.5" text-anchor="middle" fill="#444">500</text><text transform="translate(222.20000000000002,318.59999999999997) rotate(25)" font-size="3.5" text-anchor="middle" fill="#444">1000</text><text transform="translate(235.20000000000002,318.59999999999997) rotate(25)" font-size="3.5" text-anchor="middle" fill="#444">1500</text>
<polygon points="195.90,294.40 197.40,294.44 200.40,294.51 202.25,294.86 202.95,295.49 203.54,296.62 204.01,298.27 204.61,298.27 205.34,296.62 206.18,294.72 207.12,292.57 208.20,291.14 209.40,290.41 210.60,290.54 211.80,291.51 213.22,292.95 214.88,294.85 216.68,296.27 218.62,297.22 220.55,297.22 222.45,296.27 224.35,295.20 226.25,294.00 227.93,293.15 229.38,292.65 231.18,292.77 233.32,293.52 234.40,293.90 234.40,303.00 233.55,302.62 231.85,301.88 230.05,301.39 228.15,301.16 226.25,301.41 224.35,302.14 222.45,302.97 220.55,303.92 218.88,304.16 217.43,303.69 215.75,302.74 213.85,301.31 212.28,299.80 211.03,298.20 209.97,297.57 209.12,297.92 208.20,299.30 207.20,301.70 206.38,303.40 205.72,304.40 205.15,304.77 204.65,304.52 204.12,303.67 203.58,302.22 201.45,301.50 197.75,301.50 195.90,301.50" fill="#2f5b7b" stroke="#2f5b7b" stroke-width="0.5" stroke-linejoin="round"/>
<path d="M248.3,283 V314.4 H287.5" stroke="#e2e2e2" stroke-width="0.6" fill="none"/><text x="246.10000000000002" y="289.59999999999997" font-size="3.8" text-anchor="end" fill="#333">50</text><text x="246.10000000000002" y="299.59999999999997" font-size="3.8" text-anchor="end" fill="#333">0</text><text x="246.10000000000002" y="309.59999999999997" font-size="3.8" text-anchor="end" fill="#333">-50</text><text transform="translate(248.60000000000002,318.59999999999997) rotate(25)" font-size="3.5" text-anchor="middle" fill="#444">0</text><text transform="translate(261.6,318.59999999999997) rotate(25)" font-size="3.5" text-anchor="middle" fill="#444">500</text><text transform="translate(274.6,318.59999999999997) rotate(25)" font-size="3.5" text-anchor="middle" fill="#444">1000</text><text transform="translate(287.6,318.59999999999997) rotate(25)" font-size="3.5" text-anchor="middle" fill="#444">1500</text>
<polygon points="248.30,294.35 249.98,294.35 253.33,294.35 255.35,294.71 256.05,295.44 256.64,296.99 257.11,299.36 257.59,299.60 258.06,297.70 258.79,295.55 259.76,293.15 260.84,291.47 262.01,290.52 263.20,290.41 264.40,291.14 265.73,292.45 267.18,294.35 268.85,295.77 270.75,296.72 272.66,296.85 274.59,296.15 276.50,295.20 278.40,294.00 280.06,293.16 281.49,292.69 283.40,292.69 285.80,293.16 287.00,293.40 287.00,302.95 286.29,302.60 284.86,301.90 283.19,301.55 281.26,301.55 279.35,301.79 277.45,302.26 275.30,302.97 272.90,303.92 270.75,304.04 268.85,303.31 267.06,302.11 265.39,300.44 264.06,299.00 263.09,297.80 262.25,297.45 261.55,297.95 260.73,299.39 259.78,301.76 258.93,303.47 258.18,304.52 257.57,304.52 257.12,303.47 256.65,302.60 256.15,301.90 254.00,301.55 250.20,301.55 248.30,301.55" fill="#2f5b7b" stroke="#2f5b7b" stroke-width="0.5" stroke-linejoin="round"/>
<path d="M301.9,283 V314.4 H341.09999999999997" stroke="#e2e2e2" stroke-width="0.6" fill="none"/><text x="299.7" y="289.59999999999997" font-size="3.8" text-anchor="end" fill="#333">50</text><text x="299.7" y="299.59999999999997" font-size="3.8" text-anchor="end" fill="#333">0</text><text x="299.7" y="309.59999999999997" font-size="3.8" text-anchor="end" fill="#333">-50</text><text transform="translate(302.2,318.59999999999997) rotate(25)" font-size="3.5" text-anchor="middle" fill="#444">0</text><text transform="translate(315.2,318.59999999999997) rotate(25)" font-size="3.5" text-anchor="middle" fill="#444">500</text><text transform="translate(328.2,318.59999999999997) rotate(25)" font-size="3.5" text-anchor="middle" fill="#444">1000</text><text transform="translate(341.2,318.59999999999997) rotate(25)" font-size="3.5" text-anchor="middle" fill="#444">1500</text>
<polygon points="301.90,295.30 302.81,295.06 304.64,294.59 306.26,294.59 307.69,295.06 308.76,296.26 309.49,298.19 310.09,299.62 310.56,300.57 311.04,300.21 311.51,298.54 312.22,296.39 313.17,293.76 314.14,291.97 315.11,291.02 316.20,290.90 317.40,291.60 318.95,293.15 320.85,295.55 322.52,296.99 323.97,297.46 325.65,297.46 327.55,296.99 329.45,296.15 331.35,294.95 333.02,294.11 334.47,293.64 336.51,293.64 339.14,294.11 340.45,294.35 340.45,302.00 339.61,301.76 337.94,301.29 336.15,300.94 334.25,300.71 332.46,301.07 330.79,302.02 328.64,302.86 326.01,303.59 323.86,303.59 322.19,302.86 320.51,301.66 318.84,299.99 317.40,298.55 316.20,297.35 315.24,296.99 314.51,297.46 313.67,299.14 312.72,302.01 311.96,303.92 311.39,304.88 310.79,304.88 310.16,303.92 309.61,303.21 309.12,302.74 307.13,302.50 303.64,302.50 301.90,302.50" fill="#2f5b7b" stroke="#2f5b7b" stroke-width="0.5" stroke-linejoin="round"/>
<line x1="193" y1="253" x2="397" y2="253" stroke="#6a6a6a" stroke-width="1.6"/>
<line x1="399" y1="253" x2="406" y2="253" stroke="#aaa" stroke-width="1" stroke-dasharray="1.5,1"/>
<line x1="213.5" y1="251.3" x2="213.5" y2="254.7" stroke="#222" stroke-width="0.8"/>
<line x1="267" y1="251.3" x2="267" y2="254.7" stroke="#222" stroke-width="0.8"/>
<line x1="321" y1="251.3" x2="321" y2="254.7" stroke="#222" stroke-width="0.8"/>
<line x1="375" y1="251.3" x2="375" y2="254.7" stroke="#222" stroke-width="0.8"/>
<line x1="180" y1="326" x2="186" y2="326" stroke="#aaa" stroke-width="1" stroke-dasharray="1.5,1"/>
<line x1="187" y1="326" x2="340" y2="326" stroke="#6a6a6a" stroke-width="1.6"/>
<path d="M344,326 L338.5,323.4 L338.5,328.6 Z" fill="#333"/>
<line x1="213.5" y1="324.3" x2="213.5" y2="327.7" stroke="#222" stroke-width="0.8"/>
<line x1="267" y1="324.3" x2="267" y2="327.7" stroke="#222" stroke-width="0.8"/>
<line x1="321" y1="324.3" x2="321" y2="327.7" stroke="#222" stroke-width="0.8"/>
<text x="213.5" y="263.2" font-size="7.8" text-anchor="middle" fill="#1a1a1a" textLength="22" lengthAdjust="spacingAndGlyphs">week 3</text>
<text x="267.7" y="263.2" font-size="7.8" text-anchor="middle" fill="#1a1a1a" textLength="26.6" lengthAdjust="spacingAndGlyphs">week 13</text>
<text x="321.2" y="263.2" font-size="7.8" text-anchor="middle" fill="#1a1a1a" textLength="26.4" lengthAdjust="spacingAndGlyphs">week 20</text>
<text x="374.5" y="263.2" font-size="7.8" text-anchor="middle" fill="#1a1a1a" textLength="27" lengthAdjust="spacingAndGlyphs">week 28</text>
<text x="213.5" y="335.8" font-size="7.8" text-anchor="middle" fill="#1a1a1a" textLength="27" lengthAdjust="spacingAndGlyphs">week 36</text>
<text x="268" y="335.8" font-size="7.8" text-anchor="middle" fill="#1a1a1a" textLength="26" lengthAdjust="spacingAndGlyphs">week 45</text>
<text x="321.2" y="335.8" font-size="7.8" text-anchor="middle" fill="#1a1a1a" textLength="25.6" lengthAdjust="spacingAndGlyphs">week 52</text>
<path d="M366.2,290 V313.6 H390" stroke="#000" stroke-width="1.25" fill="none"/>
<text transform="translate(362.2,303.3) rotate(-90)" font-size="6.8" text-anchor="middle" fill="#111" stroke="#111" stroke-width="0.2" textLength="34" lengthAdjust="spacingAndGlyphs">Voltage (µV)</text>
<text x="366.2" y="323" font-size="6.8" fill="#111" stroke="#111" stroke-width="0.2" textLength="24" lengthAdjust="spacingAndGlyphs">time (µs)</text>
<line x1="448.8" y1="210" x2="448.8" y2="310.3" stroke="#c8c8c8" stroke-width="1"/>
<line x1="448.5" y1="310.3" x2="563.6" y2="310.3" stroke="#c8c8c8" stroke-width="1"/>
<line x1="487.3" y1="209" x2="487.3" y2="310.3" stroke="#bdbdbd" stroke-width="1"/>
<line x1="448.8" y1="304.3" x2="450.3" y2="304.3" stroke="#888" stroke-width="0.6"/>
<text x="445.4" y="307.2" font-size="8.2" stroke="#333" stroke-width="0.1" text-anchor="end" fill="#333">-50</text>
<line x1="448.8" y1="286.2" x2="450.3" y2="286.2" stroke="#888" stroke-width="0.6"/>
<text x="445.4" y="289.09999999999997" font-size="8.2" stroke="#333" stroke-width="0.1" text-anchor="end" fill="#333">0</text>
<line x1="448.8" y1="268.09999999999997" x2="450.3" y2="268.09999999999997" stroke="#888" stroke-width="0.6"/>
<text x="445.4" y="270.99999999999994" font-size="8.2" stroke="#333" stroke-width="0.1" text-anchor="end" fill="#333">50</text>
<line x1="448.8" y1="250.0" x2="450.3" y2="250.0" stroke="#888" stroke-width="0.6"/>
<text x="445.4" y="252.9" font-size="8.2" stroke="#333" stroke-width="0.1" text-anchor="end" fill="#333">100</text>
<line x1="448.8" y1="231.89999999999998" x2="450.3" y2="231.89999999999998" stroke="#888" stroke-width="0.6"/>
<text x="445.4" y="234.79999999999998" font-size="8.2" stroke="#333" stroke-width="0.1" text-anchor="end" fill="#333">150</text>
<line x1="448.8" y1="213.8" x2="450.3" y2="213.8" stroke="#888" stroke-width="0.6"/>
<text x="445.4" y="216.70000000000002" font-size="8.2" stroke="#333" stroke-width="0.1" text-anchor="end" fill="#333">200</text>
<line x1="462.2" y1="310.3" x2="462.2" y2="308.8" stroke="#888" stroke-width="0.6"/>
<text x="462.2" y="321.2" font-size="8.2" stroke="#333" stroke-width="0.1" text-anchor="middle" fill="#333">-100</text>
<line x1="487.5" y1="310.3" x2="487.5" y2="308.8" stroke="#888" stroke-width="0.6"/>
<text x="487.5" y="321.2" font-size="8.2" stroke="#333" stroke-width="0.1" text-anchor="middle" fill="#333">0</text>
<line x1="512.8" y1="310.3" x2="512.8" y2="308.8" stroke="#888" stroke-width="0.6"/>
<text x="512.8" y="321.2" font-size="8.2" stroke="#333" stroke-width="0.1" text-anchor="middle" fill="#333">100</text>
<line x1="538.1" y1="310.3" x2="538.1" y2="308.8" stroke="#888" stroke-width="0.6"/>
<text x="538.1" y="321.2" font-size="8.2" stroke="#333" stroke-width="0.1" text-anchor="middle" fill="#333">200</text>
<line x1="563.4" y1="310.3" x2="563.4" y2="308.8" stroke="#888" stroke-width="0.6"/>
<text x="563.4" y="321.2" font-size="8.2" stroke="#333" stroke-width="0.1" text-anchor="middle" fill="#333">300</text>
<text transform="translate(425.4,255.5) rotate(-90)" font-size="9.8" font-weight="bold" text-anchor="middle" fill="#000" textLength="84" lengthAdjust="spacingAndGlyphs">Net spike rate (sp/s)</text>
<text x="491.8" y="333.8" font-size="9.8" font-weight="bold" text-anchor="start" fill="#000" textLength="39.1" lengthAdjust="spacingAndGlyphs">time (ms)</text>
<polygon points="455.88,281.00 468.52,279.20 481.18,287.00 493.82,272.00 506.48,222.30 519.12,245.00 531.77,250.50 544.42,256.50 557.08,255.50 557.08,266.00 544.42,266.00 531.77,260.00 519.12,252.00 506.48,235.00 493.82,279.00 481.18,292.40 468.52,283.00 455.88,288.00" fill="#4faa4f" fill-opacity="0.88" stroke="#1e5a1e" stroke-width="0.7" stroke-opacity="0.9"/>
<polygon points="455.88,282.00 468.52,280.00 481.18,286.00 493.82,273.00 506.48,226.00 519.12,248.00 531.77,253.00 544.42,259.00 557.08,258.00 557.08,268.00 544.42,268.00 531.77,262.00 519.12,255.00 506.48,238.00 493.82,280.00 481.18,291.50 468.52,284.00 455.88,289.00" fill="#5fab62" fill-opacity="0.88" stroke="#245c24" stroke-width="0.7" stroke-opacity="0.9"/>
<polygon points="455.88,283.00 468.52,283.00 481.18,285.00 493.82,274.00 506.48,249.60 519.12,257.00 531.77,250.00 544.42,258.00 557.08,255.00 557.08,270.00 544.42,268.00 531.77,262.00 519.12,263.00 506.48,262.00 493.82,281.00 481.18,290.00 468.52,289.00 455.88,290.00" fill="#86bb86" fill-opacity="0.88" stroke="#355f35" stroke-width="0.7" stroke-opacity="0.9"/>
<polygon points="455.88,284.00 468.52,286.00 481.18,284.00 493.82,276.00 506.48,256.00 519.12,258.00 531.77,256.00 544.42,262.00 557.08,261.00 557.08,272.00 544.42,272.00 531.77,266.00 519.12,266.00 506.48,266.00 493.82,283.00 481.18,290.00 468.52,291.00 455.88,292.00" fill="#98b298" fill-opacity="0.88" stroke="#3a553a" stroke-width="0.7" stroke-opacity="0.9"/>
<polygon points="455.88,284.00 468.52,288.00 481.18,285.00 493.82,280.00 506.48,268.00 519.12,265.00 531.77,258.60 544.42,257.50 557.08,266.00 557.08,277.00 544.42,272.00 531.77,270.00 519.12,274.00 506.48,274.00 493.82,287.70 481.18,290.00 468.52,293.00 455.88,292.00" fill="#a6a6a6" fill-opacity="0.88" stroke="#4a4a4a" stroke-width="0.7" stroke-opacity="0.9"/>
<polygon points="455.88,285.00 468.52,289.00 481.18,286.00 493.82,284.00 506.48,272.00 519.12,276.00 531.77,272.00 544.42,276.00 557.08,277.00 557.08,284.00 544.42,286.00 531.77,283.00 519.12,284.00 506.48,280.00 493.82,288.00 481.18,291.00 468.52,294.00 455.88,293.00" fill="#bea8be" fill-opacity="0.88" stroke="#5a4a5a" stroke-width="0.7" stroke-opacity="0.9"/>
<polygon points="455.88,273.00 468.52,287.00 481.18,285.00 493.82,283.00 506.48,268.00 519.12,272.00 531.77,270.00 544.42,274.00 557.08,275.00 557.08,282.00 544.42,283.00 531.77,279.00 519.12,282.00 506.48,278.00 493.82,287.00 481.18,290.00 468.52,293.00 455.88,290.00" fill="#c9a0c9" fill-opacity="0.88" stroke="#5e3e5e" stroke-width="0.7" stroke-opacity="0.9"/>
<polygon points="455.88,284.00 468.52,289.00 481.18,286.00 493.82,284.00 506.48,273.00 519.12,278.00 531.77,274.00 544.42,280.00 557.08,279.00 557.08,283.90 544.42,286.20 531.77,282.70 519.12,282.70 506.48,279.30 493.82,288.00 481.18,291.00 468.52,294.30 455.88,295.30" fill="#d898d8" fill-opacity="0.88" stroke="#6a3a6a" stroke-width="0.7" stroke-opacity="0.9"/>
<polygon points="455.88,284.00 468.52,281.50 481.18,279.20 493.82,280.00 506.48,264.30 519.12,269.00 531.77,266.60 544.42,272.40 557.08,275.00 557.08,280.40 544.42,278.00 531.77,273.00 519.12,274.70 506.48,272.30 493.82,285.00 481.18,284.00 468.52,288.70 455.88,293.00" fill="#ea8cea" fill-opacity="0.88" stroke="#703a70" stroke-width="0.7" stroke-opacity="0.9"/>
<rect x="435.4" y="345.2" width="138" height="23.4" fill="#fff" stroke="#bdbdbd" stroke-width="0.9"/>
<rect x="438.1" y="349.2" width="9.4" height="7" fill="#4faa4f" stroke="#1e5a1e" stroke-width="0.6"/>
<text x="449.70000000000005" y="355.2" font-size="7.2" stroke="#111" stroke-width="0.1" text-anchor="start" fill="#111" textLength="5.6" lengthAdjust="spacingAndGlyphs">0°</text>
<rect x="438.1" y="358.59999999999997" width="9.4" height="7" fill="#5fab62" stroke="#245c24" stroke-width="0.6"/>
<text x="449.70000000000005" y="364.59999999999997" font-size="7.2" font-weight="bold" text-anchor="start" fill="#111" textLength="9.4" lengthAdjust="spacingAndGlyphs">20°</text>
<rect x="465.1" y="349.2" width="9.4" height="7" fill="#86bb86" stroke="#355f35" stroke-width="0.6"/>
<text x="476.70000000000005" y="355.2" font-size="7.2" font-weight="bold" text-anchor="start" fill="#111" textLength="9.4" lengthAdjust="spacingAndGlyphs">40°</text>
<rect x="465.1" y="358.59999999999997" width="9.4" height="7" fill="#98b298" stroke="#3a553a" stroke-width="0.6"/>
<text x="476.70000000000005" y="364.59999999999997" font-size="7.2" font-weight="bold" text-anchor="start" fill="#111" textLength="9.4" lengthAdjust="spacingAndGlyphs">60°</text>
<rect x="492.2" y="349.2" width="9.4" height="7" fill="#a6a6a6" stroke="#4a4a4a" stroke-width="0.6"/>
<text x="503.8" y="355.2" font-size="7.2" stroke="#555" stroke-width="0.1" text-anchor="start" fill="#555" textLength="9.4" lengthAdjust="spacingAndGlyphs">80°</text>
<rect x="492.2" y="358.59999999999997" width="9.4" height="7" fill="#bea8be" stroke="#5a4a5a" stroke-width="0.6"/>
<text x="503.8" y="364.59999999999997" font-size="7.2" font-weight="bold" text-anchor="start" fill="#111" textLength="13.0" lengthAdjust="spacingAndGlyphs">100°</text>
<rect x="519.3" y="349.2" width="9.4" height="7" fill="#c9a0c9" stroke="#5e3e5e" stroke-width="0.6"/>
<text x="530.9" y="355.2" font-size="7.2" font-weight="bold" text-anchor="start" fill="#111" textLength="13.0" lengthAdjust="spacingAndGlyphs">120°</text>
<rect x="519.3" y="358.59999999999997" width="9.4" height="7" fill="#dea0de" stroke="#6a3a6a" stroke-width="0.6"/>
<text x="530.9" y="364.59999999999997" font-size="7.2" font-weight="bold" text-anchor="start" fill="#111" textLength="13.0" lengthAdjust="spacingAndGlyphs">140°</text>
<rect x="546.2" y="349.2" width="9.4" height="7" fill="#f2a2f2" stroke="#703a70" stroke-width="0.6"/>
<text x="557.8000000000001" y="355.2" font-size="7.2" font-weight="bold" text-anchor="start" fill="#111" textLength="13.0" lengthAdjust="spacingAndGlyphs">160°</text>
</svg></body></html>
